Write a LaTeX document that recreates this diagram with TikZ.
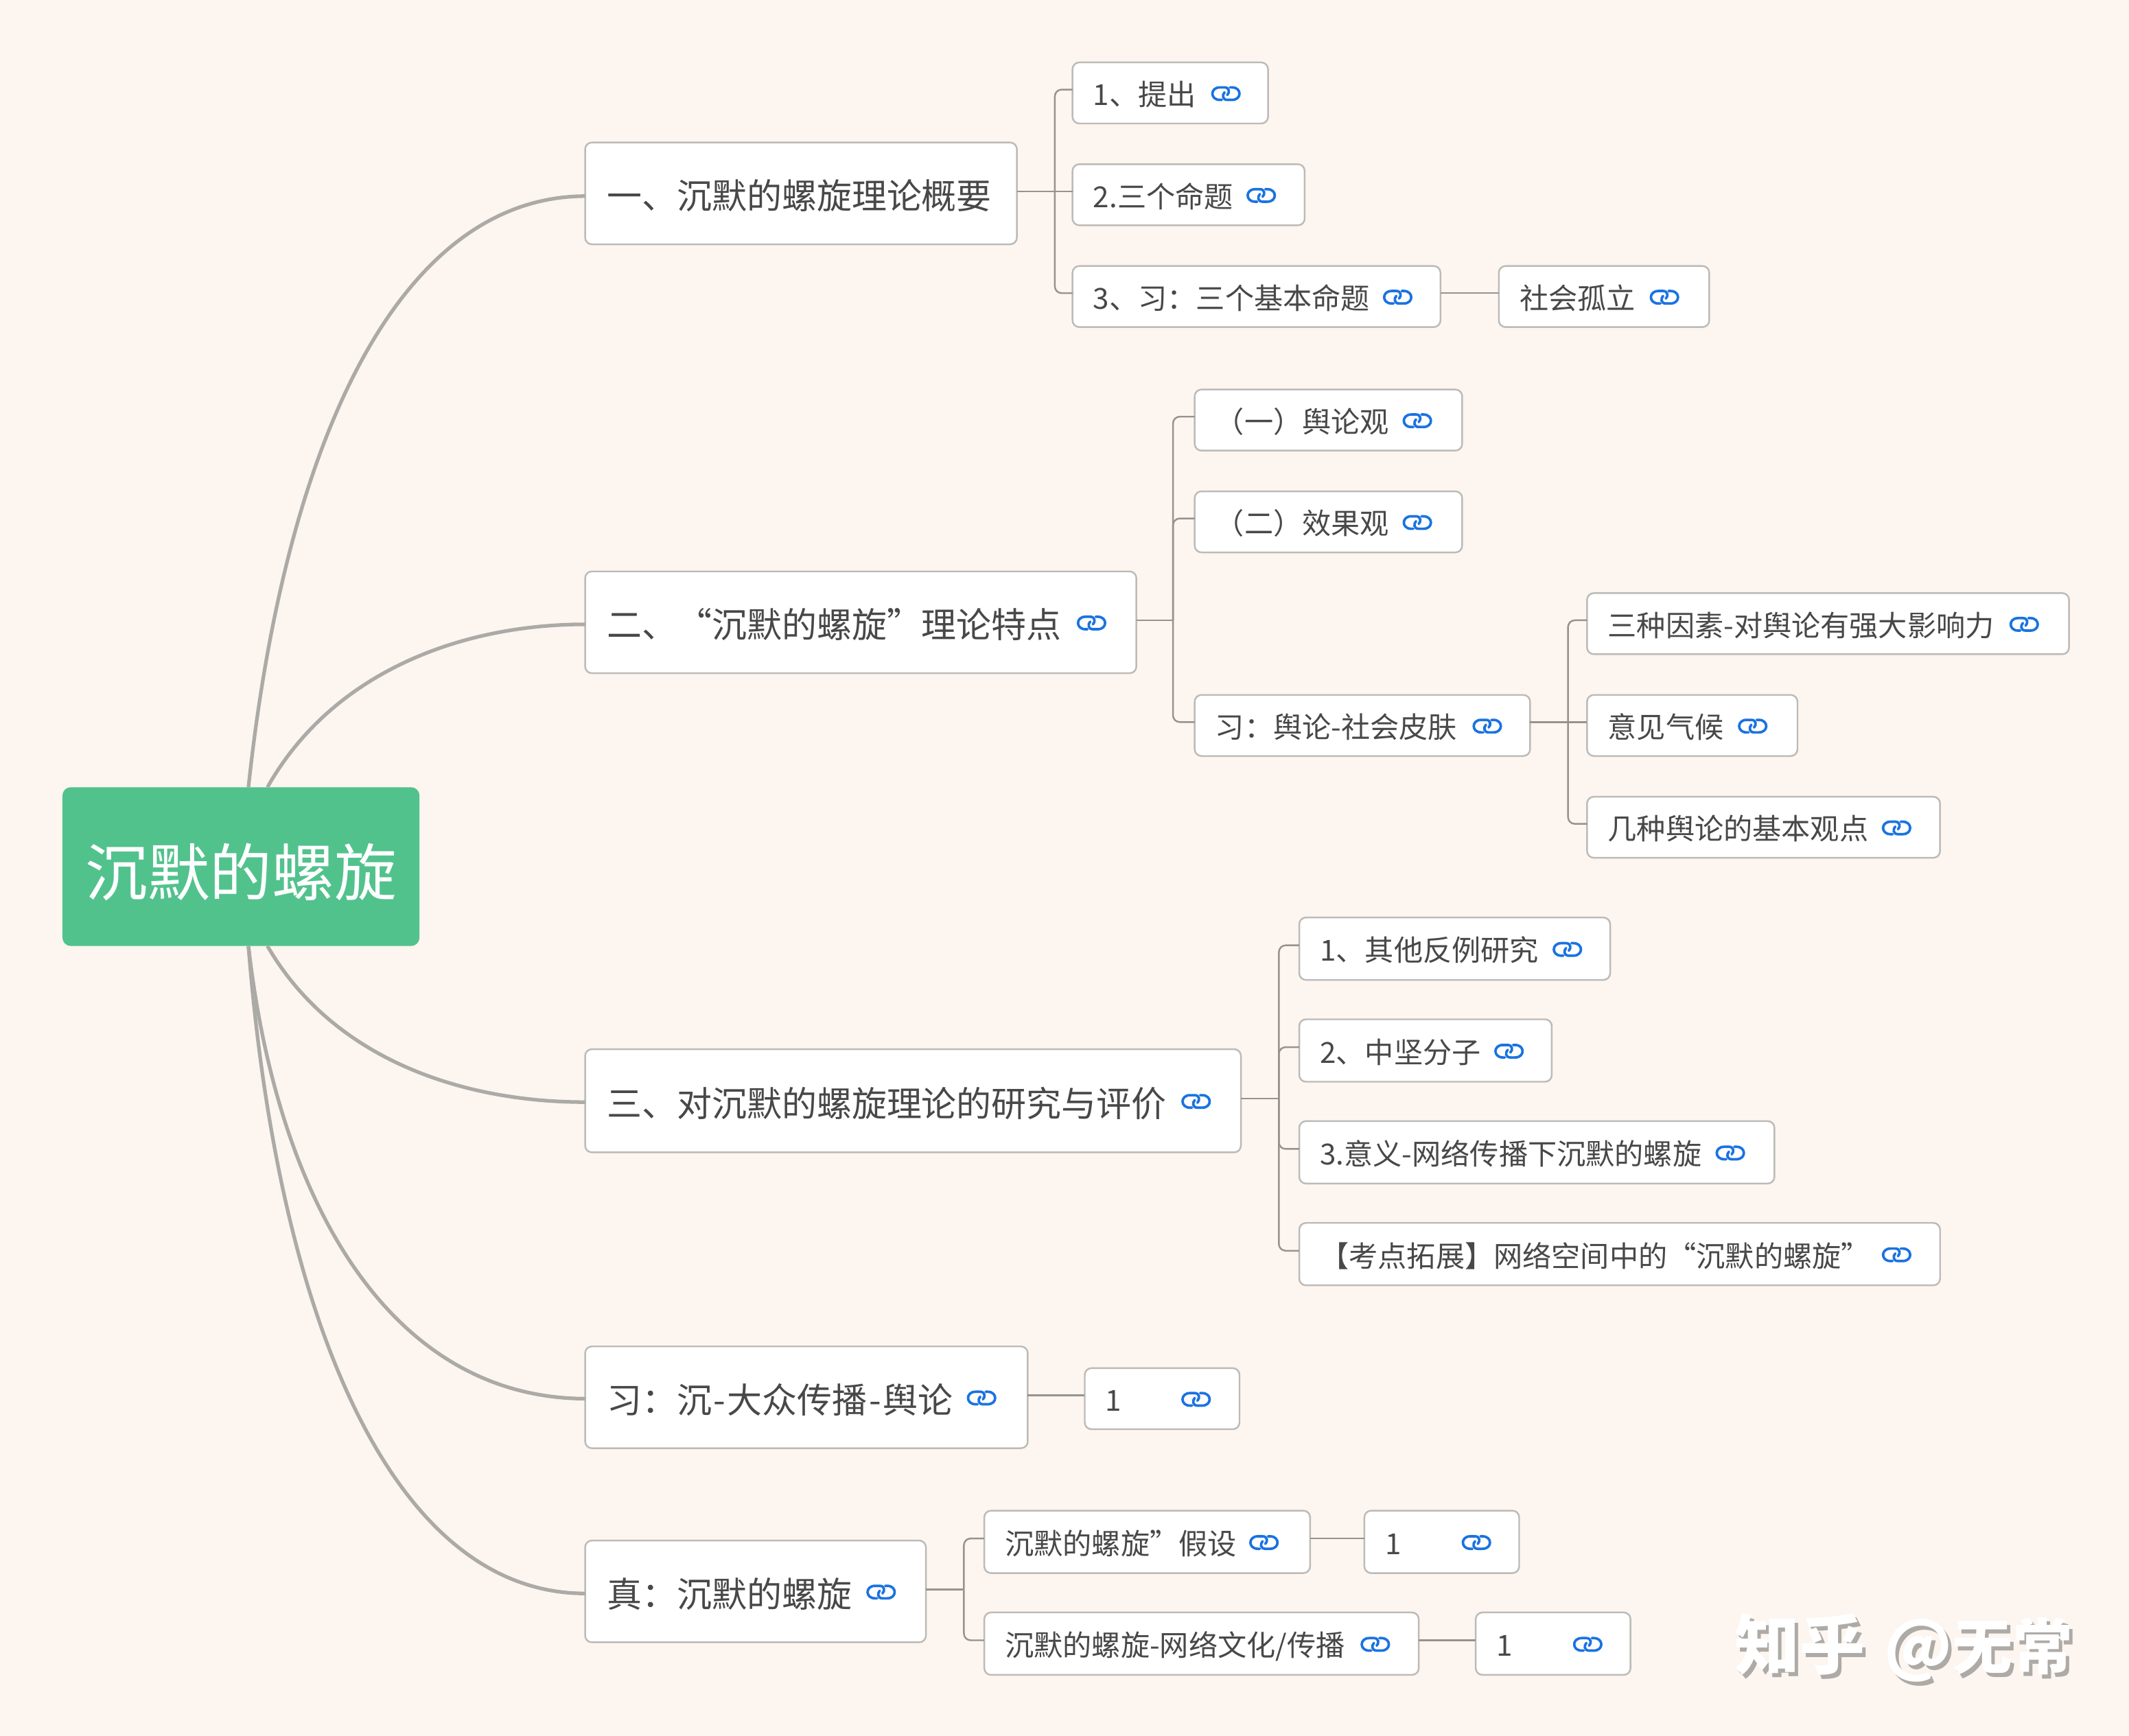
\documentclass[tikz,border=0pt]{standalone}
\usepackage{fontspec}
\setmainfont{Noto Sans CJK SC}
\usetikzlibrary{calc}
\definecolor{bgc}{HTML}{FDF5F0}
\definecolor{edgec}{HTML}{BDBBB8}
\definecolor{connc}{HTML}{96938F}
\definecolor{curvec}{HTML}{ABAAA7}
\definecolor{rootc}{HTML}{52C28D}
\definecolor{txtc}{HTML}{484848}
\definecolor{linkc}{HTML}{1A73E0}
\definecolor{wmc}{HTML}{AEAAA6}
\def\pu{0.5627pt}
\tikzset{
  boxbase/.style={draw=edgec,line width=0.7pt,fill=white,rounded corners=2.8pt,anchor=west,text=txtc,align=left,outer sep=0pt},
  topicbox/.style={boxbase,inner xsep={16*\pu},inner ysep=0pt,font=\fontsize{14.5}{16}\selectfont},
  subbox/.style={boxbase,inner xsep={15.3*\pu},inner ysep=0pt,font=\fontsize{12}{14}\selectfont},
  rootbox/.style={fill=rootc,rounded corners=3.5pt,text=white,inner sep=0pt,outer sep=0pt,font=\fontsize{25.8}{28}\selectfont},
  trunk/.style={draw=curvec,line width=1.5pt},
  conn/.style={draw=connc,line width=0.7pt},
  branch/.style={conn,rounded corners=2.8pt},
  linkline/.style={draw=linkc,line width=1.05pt,line cap=round},
  linkicon/.pic={
    \draw[linkline] (-3,4.6) -- (-4.5,4.6) .. controls (-11.8,4.6) and (-11.8,-4.6) .. (-4.5,-4.6) -- (-1,-4.6) .. controls (2.5,-4.6) and (3,-1) .. (1,1);
    \draw[linkline] (3,-4.6) -- (4.5,-4.6) .. controls (11.8,-4.6) and (11.8,4.6) .. (4.5,4.6) -- (1,4.6) .. controls (-2.5,4.6) and (-3,1) .. (-1,-1);
  }
}
\def\padtopicbox{32}
\def\padsubbox{30.6}
\def\raisetopicbox{-3.3pt}
\def\raisesubbox{-2.4pt}
% style, name, left, top, right, bottom, text
\newcommand\mmbox[7]{%
  \node[#1,minimum height={(#6-#4)*\pu},minimum width={(#5-#3)*\pu},text width={(#5-#3-(\csname pad#1\endcsname))*\pu}] (#2) at (#3,{(#4+#6)/2}) {\strut\raisebox{\csname raise#1\endcsname}[0pt][0pt]{#7}};
}
% optional parent offset, parent, bus x, child: stem to the bus, then up or down the bus to the child
\newcommand\mmconn[4][-2.5]{%
  \coordinate (bus) at (#3,0);
  \coordinate (from) at ($(#2.east)+(0,#1)$);
  \coordinate (to) at ($(#4.west)+(0,-2.5)$);
  \draw[conn] (from) -- (from -| bus);
  \draw[branch] (from -| bus) |- (to);
}
% optional parent offset, parent, child: one straight line
\newcommand\mmstraight[3][-2.5]{%
  \coordinate (from) at ($(#2.east)+(0,#1)$);
  \draw[conn] (from) -- (from -| #3.west);
}
\newcommand\hy{\kern0.7pt-\kern0.7pt}
\begin{document}
\begin{tikzpicture}[x=0.01978cm,y=-0.01978cm]
\path[use as bounding box,fill=bgc] (0,0) rectangle (1568.2,1279);
\node[rootbox,minimum width={263*\pu},minimum height={117*\pu}] (root) at (177.5,638.5) {\raisebox{-2.3pt}[\height][\depth]{沉默的螺旋}};
\mmbox{topicbox}{a}{431}{105}{749}{180}{一、沉默的螺旋理论概要}
\mmbox{topicbox}{b}{431}{421}{837}{496}{二、“沉默的螺旋”理论特点}
\mmbox{topicbox}{c}{431}{773}{914}{849}{三、对沉默的螺旋理论的研究与评价}
\mmbox{topicbox}{d}{431}{992}{757}{1067}{习：沉\hy 大众传播\hy 舆论}
\mmbox{topicbox}{e}{431}{1135}{682}{1210}{真：沉默的螺旋}
\mmbox{subbox}{a1}{790}{46}{934}{91}{1、提出}
\mmbox{subbox}{a2}{790}{121}{961}{166}{2.三个命题}
\mmbox{subbox}{a3}{790}{196}{1061}{241}{3、习：三个基本命题}
\mmbox{subbox}{a3a}{1104}{196}{1259}{241}{社会孤立}
\mmbox{subbox}{b1}{880}{287}{1077}{332}{（一）舆论观}
\mmbox{subbox}{b2}{880}{362}{1077}{407}{（二）效果观}
\mmbox{subbox}{b3}{880}{512}{1127}{557}{习：舆论-社会皮肤}
\mmbox{subbox}{b3a}{1169}{437}{1524}{482}{三种因素-对舆论有强大影响力}
\mmbox{subbox}{b3b}{1169}{512}{1324}{557}{意见气候}
\mmbox{subbox}{b3c}{1169}{587}{1429}{632}{几种舆论的基本观点}
\mmbox{subbox}{c1}{957}{676}{1186}{722}{1、其他反例研究}
\mmbox{subbox}{c2}{957}{751}{1143}{797}{2、中坚分子}
\mmbox{subbox}{c3}{957}{826}{1307}{872}{3.意义-网络传播下沉默的螺旋}
\mmbox{subbox}{c4}{957}{901}{1429}{947}{【考点拓展】网络空间中的“沉默的螺旋”}
\mmbox{subbox}{d1}{799}{1008}{913}{1053}{1}
\mmbox{subbox}{e1}{725}{1113}{965}{1159}{沉默的螺旋”假设}
\mmbox{subbox}{e1a}{1005}{1113}{1119}{1159}{1}
\mmbox{subbox}{e2}{725}{1188}{1045}{1234}{沉默的螺旋-网络文化/传播}
\mmbox{subbox}{e2a}{1087}{1188}{1201}{1234}{1}
\foreach \n/\o in {b/33,c/33,d/34,e/33,a1/31,a2/32,a3/31.5,a3a/33,b1/33,b2/33,b3/31.5,b3a/33,b3b/33,b3c/32,c1/31.5,c2/31.5,c3/32.5,c4/32,d1/32,e1/34,e1a/31.5,e2/32,e2a/31.5}{\pic at ($(\n.east)+(-\o,0.5)$) {linkicon};}
% trunks
\draw[trunk] ($(root.north)+(5.5,0)$) .. controls (212,310) and (300,145) .. ($(a.west)+(0,2)$);
\draw[trunk] ($(root.north)+(19.5,0)$) .. controls (245,495) and (340,460) .. ($(b.west)+(0,1.5)$);
\draw[trunk] ($(root.south)+(19.5,0)$) .. controls (245,780) and (340,812) .. ($(c.west)+(0,1)$);
\draw[trunk] ($(root.south)+(5.5,0)$) .. controls (205,890) and (290,1030) .. ($(d.west)+(0,1)$);
\draw[trunk] ($(root.south)+(5.5,0)$) .. controls (205,975) and (290,1174) .. ($(e.west)+(0,1.5)$);
% branches
\mmconn[-1.5]{a}{777}{a1}\mmstraight[-1.5]{a}{a2}\mmconn[-1.5]{a}{777}{a3}
\mmstraight{a3}{a3a}
\mmconn[-1.5]{b}{864}{b1}\mmconn[-1.5]{b}{864}{b2}\mmconn[-1.5]{b}{864}{b3}
\mmconn{b3}{1155}{b3a}\mmstraight{b3}{b3b}\mmconn{b3}{1155}{b3c}
\mmconn[-1.5]{c}{942}{c1}\mmconn[-1.5]{c}{942}{c2}\mmconn[-1.5]{c}{942}{c3}\mmconn[-1.5]{c}{942}{c4}
\mmstraight[-1.5]{d}{d1}
\mmconn[-1.5]{e}{710}{e1}\mmconn[-1.5]{e}{710}{e2}
\mmstraight{e1}{e1a}
\mmstraight{e2}{e2a}
% watermark
\node[text=wmc,font=\fontsize{27}{30}\selectfont\bfseries,inner sep=0pt] (wmshadow) at (1405,1217) {知乎\hspace{8pt}@{\fontsize{25}{30}\selectfont 无常}};
\node[text=white,font=\fontsize{27}{30}\selectfont\bfseries,inner sep=0pt] (wmtext) at (1402.5,1214) {知乎\hspace{8pt}@{\fontsize{25}{30}\selectfont 无常}};
\end{tikzpicture}
\end{document}
